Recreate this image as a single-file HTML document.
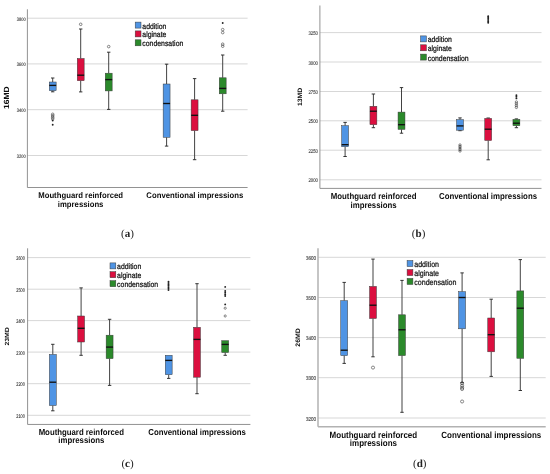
<!DOCTYPE html>
<html lang="en">
<head>
<meta charset="utf-8">
<title>Box plots</title>
<style>
html,body{margin:0;padding:0;background:#fff;}
body{width:550px;height:474px;overflow:hidden;}
svg{display:block;text-rendering:geometricPrecision;filter:blur(.3px);}
.g{stroke:#d2d2d2;stroke-width:.9;}
.a{stroke:#868686;stroke-width:.9;}
.a2{stroke:#b2b2b2;stroke-width:1.5;}
.w{stroke:#383838;stroke-width:.95;}
.c{stroke:#2a2a2a;stroke-width:.95;}
.m{stroke:#111;stroke-width:1.35;}
.b{stroke:#3a3a3a;stroke-width:.5;}
.o{fill:none;stroke:#2a2a2a;stroke-width:.55;}
.s{fill:#222;}
.t{font-family:"Liberation Sans", Arial, sans-serif;fill:#333;stroke:#333;stroke-width:.08;}
.yl{font-family:"Liberation Sans", Arial, sans-serif;font-weight:bold;fill:#0c0c0c;}
.lg{font-family:"Liberation Sans", Arial, sans-serif;fill:#111;stroke:#111;stroke-width:.2;}
.xl{font-family:"Liberation Sans", Arial, sans-serif;font-weight:bold;fill:#0c0c0c;}
.cap{font-family:"Liberation Serif", "Times New Roman", serif;font-size:11px;fill:#222;}
</style>
</head>
<body>
<svg width="550" height="474" viewBox="0 0 550 474">
<rect width="550" height="474" fill="#fff"/>
<g>
<line x1="27.4" y1="18.2" x2="247.6" y2="18.2" class="g"/>
<text transform="translate(25.7,20.70) scale(1,1.25)" font-size="4.0" text-anchor="end" class="t">3800</text>
<line x1="27.4" y1="63.9" x2="247.6" y2="63.9" class="g"/>
<text transform="translate(25.7,66.40) scale(1,1.25)" font-size="4.0" text-anchor="end" class="t">3600</text>
<line x1="27.4" y1="109.7" x2="247.6" y2="109.7" class="g"/>
<text transform="translate(25.7,112.20) scale(1,1.25)" font-size="4.0" text-anchor="end" class="t">3400</text>
<line x1="27.4" y1="155.5" x2="247.6" y2="155.5" class="g"/>
<text transform="translate(25.7,158.00) scale(1,1.25)" font-size="4.0" text-anchor="end" class="t">3200</text>
<line x1="27.4" y1="9.3" x2="27.4" y2="187.5" class="a"/>
<line x1="27.4" y1="187.5" x2="247.6" y2="187.5" class="a"/>
<text transform="translate(9.3,97.7) rotate(-90) scale(1.14,1)" font-size="7.5" text-anchor="middle" class="yl">16MD</text>
<rect x="135.2" y="22.10" width="5.8" height="6" fill="#4f94e4" class="b"/>
<text transform="translate(142.30,28.50) scale(1,1.14)" font-size="6.9" class="lg">addition</text>
<rect x="135.2" y="30.90" width="5.8" height="6" fill="#db0f3f" class="b"/>
<text transform="translate(142.30,37.30) scale(1,1.14)" font-size="6.9" class="lg">alginate</text>
<rect x="135.2" y="39.80" width="5.8" height="6" fill="#2b8a2b" class="b"/>
<text transform="translate(142.30,46.20) scale(1,1.14)" font-size="6.9" class="lg">condensation</text>
<text transform="translate(80.6,197.8) scale(1,1.07)" font-size="7.75" text-anchor="middle" class="xl">Mouthguard reinforced</text>
<text transform="translate(80.6,207.1) scale(1,1.07)" font-size="7.75" text-anchor="middle" class="xl">impressions</text>
<text transform="translate(194.8,197.8) scale(1,1.07)" font-size="7.75" text-anchor="middle" class="xl">Conventional impressions</text>
</g>
<line x1="52.7" y1="78" x2="52.7" y2="82" class="w"/>
<line x1="51.0" y1="78" x2="54.400000000000006" y2="78" class="c"/>
<line x1="52.7" y1="90.7" x2="52.7" y2="91.8" class="w"/>
<line x1="51.0" y1="91.8" x2="54.400000000000006" y2="91.8" class="c"/>
<rect x="49.25" y="82" width="6.9" height="8.70" fill="#4f94e4" class="b"/>
<line x1="49.25" y1="85.4" x2="56.15" y2="85.4" class="m"/>
<circle cx="52.7" cy="114.3" r="1.3" class="o"/>
<circle cx="52.7" cy="115.8" r="1.3" class="o"/>
<circle cx="52.7" cy="117.3" r="1.3" class="o"/>
<circle cx="52.7" cy="118.8" r="1.3" class="o"/>
<circle cx="52.7" cy="120.5" r="0.95" class="s"/>
<circle cx="52.7" cy="124.7" r="0.95" class="s"/>
<line x1="80.7" y1="29" x2="80.7" y2="58.5" class="w"/>
<line x1="79.0" y1="29" x2="82.4" y2="29" class="c"/>
<line x1="80.7" y1="80.7" x2="80.7" y2="91.9" class="w"/>
<line x1="79.0" y1="91.9" x2="82.4" y2="91.9" class="c"/>
<rect x="77.25" y="58.5" width="6.9" height="22.20" fill="#db0f3f" class="b"/>
<line x1="77.25" y1="75.2" x2="84.15" y2="75.2" class="m"/>
<circle cx="80.7" cy="24.3" r="1.3" class="o"/>
<line x1="108.7" y1="52.2" x2="108.7" y2="73.2" class="w"/>
<line x1="107.0" y1="52.2" x2="110.4" y2="52.2" class="c"/>
<line x1="108.7" y1="90.9" x2="108.7" y2="109.4" class="w"/>
<line x1="107.0" y1="109.4" x2="110.4" y2="109.4" class="c"/>
<rect x="105.25" y="73.2" width="6.9" height="17.70" fill="#2b8a2b" class="b"/>
<line x1="105.25" y1="79.6" x2="112.15" y2="79.6" class="m"/>
<circle cx="108.7" cy="46.6" r="1.3" class="o"/>
<line x1="166.6" y1="64.2" x2="166.6" y2="84" class="w"/>
<line x1="164.9" y1="64.2" x2="168.29999999999998" y2="64.2" class="c"/>
<line x1="166.6" y1="137.3" x2="166.6" y2="146.1" class="w"/>
<line x1="164.9" y1="146.1" x2="168.29999999999998" y2="146.1" class="c"/>
<rect x="163.15" y="84" width="6.9" height="53.30" fill="#4f94e4" class="b"/>
<line x1="163.15" y1="103.5" x2="170.05" y2="103.5" class="m"/>
<line x1="194.6" y1="78.6" x2="194.6" y2="99.8" class="w"/>
<line x1="192.9" y1="78.6" x2="196.29999999999998" y2="78.6" class="c"/>
<line x1="194.6" y1="130.6" x2="194.6" y2="159.7" class="w"/>
<line x1="192.9" y1="159.7" x2="196.29999999999998" y2="159.7" class="c"/>
<rect x="191.15" y="99.8" width="6.9" height="30.80" fill="#db0f3f" class="b"/>
<line x1="191.15" y1="115.3" x2="198.05" y2="115.3" class="m"/>
<line x1="222.7" y1="55" x2="222.7" y2="77.8" class="w"/>
<line x1="221.0" y1="55" x2="224.39999999999998" y2="55" class="c"/>
<line x1="222.7" y1="93.8" x2="222.7" y2="111.2" class="w"/>
<line x1="221.0" y1="111.2" x2="224.39999999999998" y2="111.2" class="c"/>
<rect x="219.25" y="77.8" width="6.9" height="16.00" fill="#2b8a2b" class="b"/>
<line x1="219.25" y1="88.4" x2="226.15" y2="88.4" class="m"/>
<circle cx="222.7" cy="23" r="0.95" class="s"/>
<circle cx="222.7" cy="29.6" r="1.3" class="o"/>
<circle cx="222.7" cy="32.6" r="1.3" class="o"/>
<circle cx="222.7" cy="44.2" r="1.3" class="o"/>
<circle cx="222.7" cy="46.2" r="1.3" class="o"/>
<text x="127.5" y="237.3" text-anchor="middle" class="cap">(<tspan font-weight="bold">a</tspan>)</text>
<g>
<line x1="319.9" y1="32.6" x2="541.5" y2="32.6" class="g"/>
<text transform="translate(317.8,35.27) scale(1,1.3)" font-size="4.2" text-anchor="end" class="t">3250</text>
<line x1="319.9" y1="62" x2="541.5" y2="62" class="g"/>
<text transform="translate(317.8,64.67) scale(1,1.3)" font-size="4.2" text-anchor="end" class="t">3000</text>
<line x1="319.9" y1="91.5" x2="541.5" y2="91.5" class="g"/>
<text transform="translate(317.8,94.17) scale(1,1.3)" font-size="4.2" text-anchor="end" class="t">2750</text>
<line x1="319.9" y1="120.8" x2="541.5" y2="120.8" class="g"/>
<text transform="translate(317.8,123.47) scale(1,1.3)" font-size="4.2" text-anchor="end" class="t">2500</text>
<line x1="319.9" y1="150.2" x2="541.5" y2="150.2" class="g"/>
<text transform="translate(317.8,152.87) scale(1,1.3)" font-size="4.2" text-anchor="end" class="t">2250</text>
<line x1="319.9" y1="179.8" x2="541.5" y2="179.8" class="g"/>
<text transform="translate(317.8,182.47) scale(1,1.3)" font-size="4.2" text-anchor="end" class="t">2000</text>
<line x1="319.9" y1="5.5" x2="319.9" y2="188.4" class="a"/>
<line x1="319.9" y1="188.4" x2="541.5" y2="188.4" class="a"/>
<text transform="translate(301.8,96.9) rotate(-90) scale(1.08,1)" font-size="6.4" text-anchor="middle" class="yl">13MD</text>
<rect x="420.6" y="35.90" width="5.8" height="6" fill="#4f94e4" class="b"/>
<text transform="translate(427.70,42.30) scale(1,1.14)" font-size="6.9" class="lg">addition</text>
<rect x="420.6" y="44.80" width="5.8" height="6" fill="#db0f3f" class="b"/>
<text transform="translate(427.70,51.20) scale(1,1.14)" font-size="6.9" class="lg">alginate</text>
<rect x="420.6" y="54.10" width="5.8" height="6" fill="#2b8a2b" class="b"/>
<text transform="translate(427.70,60.50) scale(1,1.14)" font-size="6.9" class="lg">condensation</text>
<text transform="translate(373.6,199.2) scale(1,1.1)" font-size="7.85" text-anchor="middle" class="xl">Mouthguard reinforced</text>
<text transform="translate(373.6,207.6) scale(1,1.1)" font-size="7.85" text-anchor="middle" class="xl">impressions</text>
<text transform="translate(488,199.2) scale(1,1.1)" font-size="7.85" text-anchor="middle" class="xl">Conventional impressions</text>
</g>
<line x1="345.1" y1="122.4" x2="345.1" y2="125.7" class="w"/>
<line x1="343.40000000000003" y1="122.4" x2="346.8" y2="122.4" class="c"/>
<line x1="345.1" y1="146.7" x2="345.1" y2="156.5" class="w"/>
<line x1="343.40000000000003" y1="156.5" x2="346.8" y2="156.5" class="c"/>
<rect x="341.65" y="125.7" width="6.9" height="21.00" fill="#4f94e4" class="b"/>
<line x1="341.65" y1="144.7" x2="348.55" y2="144.7" class="m"/>
<line x1="373.4" y1="94" x2="373.4" y2="106.3" class="w"/>
<line x1="371.7" y1="94" x2="375.09999999999997" y2="94" class="c"/>
<line x1="373.4" y1="124.7" x2="373.4" y2="127.7" class="w"/>
<line x1="371.7" y1="127.7" x2="375.09999999999997" y2="127.7" class="c"/>
<rect x="369.95" y="106.3" width="6.9" height="18.40" fill="#db0f3f" class="b"/>
<line x1="369.95" y1="111.2" x2="376.85" y2="111.2" class="m"/>
<line x1="401.5" y1="87.6" x2="401.5" y2="112.1" class="w"/>
<line x1="399.8" y1="87.6" x2="403.2" y2="87.6" class="c"/>
<line x1="401.5" y1="129.4" x2="401.5" y2="133.2" class="w"/>
<line x1="399.8" y1="133.2" x2="403.2" y2="133.2" class="c"/>
<rect x="398.05" y="112.1" width="6.9" height="17.30" fill="#2b8a2b" class="b"/>
<line x1="398.05" y1="124.7" x2="404.95" y2="124.7" class="m"/>
<line x1="460" y1="117.9" x2="460" y2="119.6" class="w"/>
<line x1="458.3" y1="117.9" x2="461.7" y2="117.9" class="c"/>
<line x1="460" y1="130.2" x2="460" y2="130.7" class="w"/>
<line x1="458.3" y1="130.7" x2="461.7" y2="130.7" class="c"/>
<rect x="456.55" y="119.6" width="6.9" height="10.60" fill="#4f94e4" class="b"/>
<line x1="456.55" y1="125.9" x2="463.45" y2="125.9" class="m"/>
<circle cx="460" cy="145" r="1.2" class="o"/>
<circle cx="460" cy="146.5" r="1.2" class="o"/>
<circle cx="460" cy="148" r="1.2" class="o"/>
<circle cx="460" cy="149.5" r="1.2" class="o"/>
<circle cx="460" cy="151" r="1.2" class="o"/>
<line x1="488.2" y1="118.0" x2="488.2" y2="118.4" class="w"/>
<line x1="486.5" y1="118.0" x2="489.9" y2="118.0" class="c"/>
<line x1="488.2" y1="140.5" x2="488.2" y2="159.8" class="w"/>
<line x1="486.5" y1="159.8" x2="489.9" y2="159.8" class="c"/>
<rect x="484.75" y="118.4" width="6.9" height="22.10" fill="#db0f3f" class="b"/>
<line x1="484.75" y1="129.2" x2="491.65" y2="129.2" class="m"/>
<circle cx="488.2" cy="16.3" r="0.95" class="s"/>
<circle cx="488.2" cy="17.2" r="0.95" class="s"/>
<circle cx="488.2" cy="18.6" r="0.95" class="s"/>
<circle cx="488.2" cy="20" r="0.95" class="s"/>
<circle cx="488.2" cy="21.4" r="0.95" class="s"/>
<circle cx="488.2" cy="22.8" r="0.95" class="s"/>
<line x1="516.4" y1="118.9" x2="516.4" y2="119.4" class="w"/>
<line x1="514.6999999999999" y1="118.9" x2="518.1" y2="118.9" class="c"/>
<line x1="516.4" y1="125.7" x2="516.4" y2="127.7" class="w"/>
<line x1="514.6999999999999" y1="127.7" x2="518.1" y2="127.7" class="c"/>
<rect x="512.95" y="119.4" width="6.9" height="6.30" fill="#2b8a2b" class="b"/>
<line x1="512.95" y1="123.2" x2="519.85" y2="123.2" class="m"/>
<circle cx="516.4" cy="95.2" r="0.95" class="s"/>
<circle cx="516.4" cy="96.8" r="0.95" class="s"/>
<circle cx="516.4" cy="98.4" r="0.95" class="s"/>
<circle cx="516.4" cy="102" r="1.2" class="o"/>
<circle cx="516.4" cy="103.8" r="1.2" class="o"/>
<circle cx="516.4" cy="105.6" r="1.2" class="o"/>
<circle cx="516.4" cy="107.4" r="1.2" class="o"/>
<text x="418.6" y="236.6" text-anchor="middle" class="cap">(<tspan font-weight="bold">b</tspan>)</text>
<g>
<line x1="27.6" y1="257.6" x2="250.4" y2="257.6" class="g"/>
<text transform="translate(24.8,260.22) scale(1,1.4)" font-size="3.8" text-anchor="end" class="t">2600</text>
<line x1="27.6" y1="289.2" x2="250.4" y2="289.2" class="g"/>
<text transform="translate(24.8,291.82) scale(1,1.4)" font-size="3.8" text-anchor="end" class="t">2500</text>
<line x1="27.6" y1="320.6" x2="250.4" y2="320.6" class="g"/>
<text transform="translate(24.8,323.22) scale(1,1.4)" font-size="3.8" text-anchor="end" class="t">2400</text>
<line x1="27.6" y1="352.1" x2="250.4" y2="352.1" class="g"/>
<text transform="translate(24.8,354.72) scale(1,1.4)" font-size="3.8" text-anchor="end" class="t">2300</text>
<line x1="27.6" y1="383.7" x2="250.4" y2="383.7" class="g"/>
<text transform="translate(24.8,386.32) scale(1,1.4)" font-size="3.8" text-anchor="end" class="t">2200</text>
<line x1="27.6" y1="415.3" x2="250.4" y2="415.3" class="g"/>
<text transform="translate(24.8,417.92) scale(1,1.4)" font-size="3.8" text-anchor="end" class="t">2100</text>
<line x1="27.6" y1="248.3" x2="27.6" y2="424.45" class="a"/>
<line x1="27.6" y1="424.45" x2="250.4" y2="424.45" class="a"/>
<text transform="translate(9.0,336.4) rotate(-90) scale(1.15,1)" font-size="6.0" text-anchor="middle" class="yl">23MD</text>
<rect x="110.0" y="262.90" width="5.8" height="6" fill="#4f94e4" class="b"/>
<text transform="translate(117.10,269.30) scale(1,1.14)" font-size="6.9" class="lg">addition</text>
<rect x="110.0" y="271.70" width="5.8" height="6" fill="#db0f3f" class="b"/>
<text transform="translate(117.10,278.10) scale(1,1.14)" font-size="6.9" class="lg">alginate</text>
<rect x="110.0" y="280.70" width="5.8" height="6" fill="#2b8a2b" class="b"/>
<text transform="translate(117.10,287.10) scale(1,1.14)" font-size="6.9" class="lg">condensation</text>
<text transform="translate(81.3,434.5) scale(1,1.12)" font-size="7.8" text-anchor="middle" class="xl">Mouthguard reinforced</text>
<text transform="translate(81.3,443.1) scale(1,1.12)" font-size="7.8" text-anchor="middle" class="xl">impressions</text>
<text transform="translate(197,434.5) scale(1,1.12)" font-size="7.8" text-anchor="middle" class="xl">Conventional impressions</text>
</g>
<line x1="52.8" y1="344.3" x2="52.8" y2="354.5" class="w"/>
<line x1="51.099999999999994" y1="344.3" x2="54.5" y2="344.3" class="c"/>
<line x1="52.8" y1="405.5" x2="52.8" y2="410.8" class="w"/>
<line x1="51.099999999999994" y1="410.8" x2="54.5" y2="410.8" class="c"/>
<rect x="49.35" y="354.5" width="6.9" height="51.00" fill="#4f94e4" class="b"/>
<line x1="49.35" y1="382.2" x2="56.25" y2="382.2" class="m"/>
<line x1="81.1" y1="287.9" x2="81.1" y2="316" class="w"/>
<line x1="79.39999999999999" y1="287.9" x2="82.8" y2="287.9" class="c"/>
<line x1="81.1" y1="342" x2="81.1" y2="355.3" class="w"/>
<line x1="79.39999999999999" y1="355.3" x2="82.8" y2="355.3" class="c"/>
<rect x="77.65" y="316" width="6.9" height="26.00" fill="#db0f3f" class="b"/>
<line x1="77.65" y1="328.3" x2="84.55" y2="328.3" class="m"/>
<line x1="109.6" y1="319.3" x2="109.6" y2="335.2" class="w"/>
<line x1="107.89999999999999" y1="319.3" x2="111.3" y2="319.3" class="c"/>
<line x1="109.6" y1="358.6" x2="109.6" y2="385.4" class="w"/>
<line x1="107.89999999999999" y1="385.4" x2="111.3" y2="385.4" class="c"/>
<rect x="106.15" y="335.2" width="6.9" height="23.40" fill="#2b8a2b" class="b"/>
<line x1="106.15" y1="347.1" x2="113.05" y2="347.1" class="m"/>
<line x1="168.7" y1="374.7" x2="168.7" y2="378.4" class="w"/>
<line x1="167.0" y1="378.4" x2="170.39999999999998" y2="378.4" class="c"/>
<rect x="165.25" y="355.3" width="6.9" height="19.40" fill="#4f94e4" class="b"/>
<line x1="165.25" y1="360.4" x2="172.15" y2="360.4" class="m"/>
<circle cx="168.5" cy="281.6" r="0.95" class="s"/>
<circle cx="168.5" cy="283" r="0.95" class="s"/>
<circle cx="168.5" cy="284.4" r="0.95" class="s"/>
<circle cx="168.5" cy="285.8" r="0.95" class="s"/>
<circle cx="168.5" cy="287.2" r="0.95" class="s"/>
<circle cx="168.5" cy="288.6" r="0.95" class="s"/>
<circle cx="168.5" cy="290" r="0.95" class="s"/>
<line x1="197" y1="283.7" x2="197" y2="327.3" class="w"/>
<line x1="195.3" y1="283.7" x2="198.7" y2="283.7" class="c"/>
<line x1="197" y1="377.2" x2="197" y2="393.7" class="w"/>
<line x1="195.3" y1="393.7" x2="198.7" y2="393.7" class="c"/>
<rect x="193.55" y="327.3" width="6.9" height="49.90" fill="#db0f3f" class="b"/>
<line x1="193.55" y1="339.4" x2="200.45" y2="339.4" class="m"/>
<line x1="225.2" y1="352.5" x2="225.2" y2="355.3" class="w"/>
<line x1="223.5" y1="355.3" x2="226.89999999999998" y2="355.3" class="c"/>
<rect x="221.75" y="340.7" width="6.9" height="11.80" fill="#2b8a2b" class="b"/>
<line x1="221.75" y1="344.4" x2="228.65" y2="344.4" class="m"/>
<circle cx="225.2" cy="286.9" r="0.95" class="s"/>
<circle cx="225.2" cy="291" r="0.95" class="s"/>
<circle cx="225.2" cy="292.7" r="0.95" class="s"/>
<circle cx="225.2" cy="294.4" r="0.95" class="s"/>
<circle cx="225.2" cy="296" r="0.95" class="s"/>
<circle cx="225.2" cy="304.4" r="0.95" class="s"/>
<circle cx="225.2" cy="308.2" r="1.1" class="o"/>
<circle cx="225.2" cy="316" r="1.1" class="o"/>
<text x="127.5" y="466.6" text-anchor="middle" class="cap">(<tspan font-weight="bold">c</tspan>)</text>
<g>
<line x1="318.0" y1="257.3" x2="545.7" y2="257.3" class="g"/>
<text transform="translate(316.0,260.00) scale(1,1.22)" font-size="4.55" text-anchor="end" class="t">3600</text>
<line x1="318.0" y1="297.5" x2="545.7" y2="297.5" class="g"/>
<text transform="translate(316.0,300.20) scale(1,1.22)" font-size="4.55" text-anchor="end" class="t">3500</text>
<line x1="318.0" y1="337.6" x2="545.7" y2="337.6" class="g"/>
<text transform="translate(316.0,340.30) scale(1,1.22)" font-size="4.55" text-anchor="end" class="t">3400</text>
<line x1="318.0" y1="377.7" x2="545.7" y2="377.7" class="g"/>
<text transform="translate(316.0,380.40) scale(1,1.22)" font-size="4.55" text-anchor="end" class="t">3300</text>
<line x1="318.0" y1="418" x2="545.7" y2="418" class="g"/>
<text transform="translate(316.0,420.70) scale(1,1.22)" font-size="4.55" text-anchor="end" class="t">3200</text>
<line x1="318.0" y1="248.3" x2="318.0" y2="426.8" class="a2"/>
<line x1="318.0" y1="426.8" x2="545.7" y2="426.8" class="a2"/>
<text transform="translate(299.6,337.5) rotate(-90) scale(1.06,1)" font-size="6.5" text-anchor="middle" class="yl">26MD</text>
<rect x="407.1" y="260.55" width="5.8" height="6" fill="#4f94e4" class="b"/>
<text transform="translate(414.20,266.95) scale(1,1.14)" font-size="7.1" class="lg">addition</text>
<rect x="407.1" y="269.55" width="5.8" height="6" fill="#db0f3f" class="b"/>
<text transform="translate(414.20,275.95) scale(1,1.14)" font-size="7.1" class="lg">alginate</text>
<rect x="407.1" y="278.45" width="5.8" height="6" fill="#2b8a2b" class="b"/>
<text transform="translate(414.20,284.85) scale(1,1.14)" font-size="7.1" class="lg">condensation</text>
<text transform="translate(373.4,437.5) scale(1,1.12)" font-size="8.0" text-anchor="middle" class="xl">Mouthguard reinforced</text>
<text transform="translate(373.4,445.7) scale(1,1.12)" font-size="8.0" text-anchor="middle" class="xl">impressions</text>
<text transform="translate(491.3,437.5) scale(1,1.12)" font-size="8.0" text-anchor="middle" class="xl">Conventional impressions</text>
</g>
<line x1="344.2" y1="282.4" x2="344.2" y2="300.7" class="w"/>
<line x1="342.5" y1="282.4" x2="345.9" y2="282.4" class="c"/>
<line x1="344.2" y1="355.6" x2="344.2" y2="363.4" class="w"/>
<line x1="342.5" y1="363.4" x2="345.9" y2="363.4" class="c"/>
<rect x="340.75" y="300.7" width="6.9" height="54.90" fill="#4f94e4" class="b"/>
<line x1="340.75" y1="350.2" x2="347.65" y2="350.2" class="m"/>
<line x1="373.0" y1="259.1" x2="373.0" y2="286.4" class="w"/>
<line x1="371.3" y1="259.1" x2="374.7" y2="259.1" class="c"/>
<line x1="373.0" y1="318.5" x2="373.0" y2="356.8" class="w"/>
<line x1="371.3" y1="356.8" x2="374.7" y2="356.8" class="c"/>
<rect x="369.55" y="286.4" width="6.9" height="32.10" fill="#db0f3f" class="b"/>
<line x1="369.55" y1="305.2" x2="376.45" y2="305.2" class="m"/>
<circle cx="373.0" cy="367.6" r="1.55" class="o"/>
<line x1="402.0" y1="280.4" x2="402.0" y2="314.8" class="w"/>
<line x1="400.3" y1="280.4" x2="403.7" y2="280.4" class="c"/>
<line x1="402.0" y1="355.6" x2="402.0" y2="412.3" class="w"/>
<line x1="400.3" y1="412.3" x2="403.7" y2="412.3" class="c"/>
<rect x="398.55" y="314.8" width="6.9" height="40.80" fill="#2b8a2b" class="b"/>
<line x1="398.55" y1="329.8" x2="405.45" y2="329.8" class="m"/>
<line x1="462.1" y1="272.9" x2="462.1" y2="291.7" class="w"/>
<line x1="460.40000000000003" y1="272.9" x2="463.8" y2="272.9" class="c"/>
<line x1="462.1" y1="328.8" x2="462.1" y2="382.7" class="w"/>
<line x1="460.40000000000003" y1="382.7" x2="463.8" y2="382.7" class="c"/>
<rect x="458.65" y="291.7" width="6.9" height="37.10" fill="#4f94e4" class="b"/>
<line x1="458.65" y1="297.5" x2="465.55" y2="297.5" class="m"/>
<circle cx="462.1" cy="383.2" r="1.55" class="o"/>
<circle cx="462.1" cy="385.6" r="1.55" class="o"/>
<circle cx="462.1" cy="387.6" r="1.55" class="o"/>
<circle cx="462.1" cy="389" r="1.55" class="o"/>
<circle cx="462.1" cy="401.5" r="1.55" class="o"/>
<line x1="491.2" y1="299.2" x2="491.2" y2="318" class="w"/>
<line x1="489.5" y1="299.2" x2="492.9" y2="299.2" class="c"/>
<line x1="491.2" y1="351.8" x2="491.2" y2="376.4" class="w"/>
<line x1="489.5" y1="376.4" x2="492.9" y2="376.4" class="c"/>
<rect x="487.75" y="318" width="6.9" height="33.80" fill="#db0f3f" class="b"/>
<line x1="487.75" y1="334.7" x2="494.65" y2="334.7" class="m"/>
<line x1="520.3" y1="259.6" x2="520.3" y2="290.9" class="w"/>
<line x1="518.5999999999999" y1="259.6" x2="522.0" y2="259.6" class="c"/>
<line x1="520.3" y1="358.3" x2="520.3" y2="390.5" class="w"/>
<line x1="518.5999999999999" y1="390.5" x2="522.0" y2="390.5" class="c"/>
<rect x="516.85" y="290.9" width="6.9" height="67.40" fill="#2b8a2b" class="b"/>
<line x1="516.85" y1="308.2" x2="523.75" y2="308.2" class="m"/>
<text x="419.8" y="466.6" text-anchor="middle" class="cap">(<tspan font-weight="bold">d</tspan>)</text>
</svg>
</body>
</html>
